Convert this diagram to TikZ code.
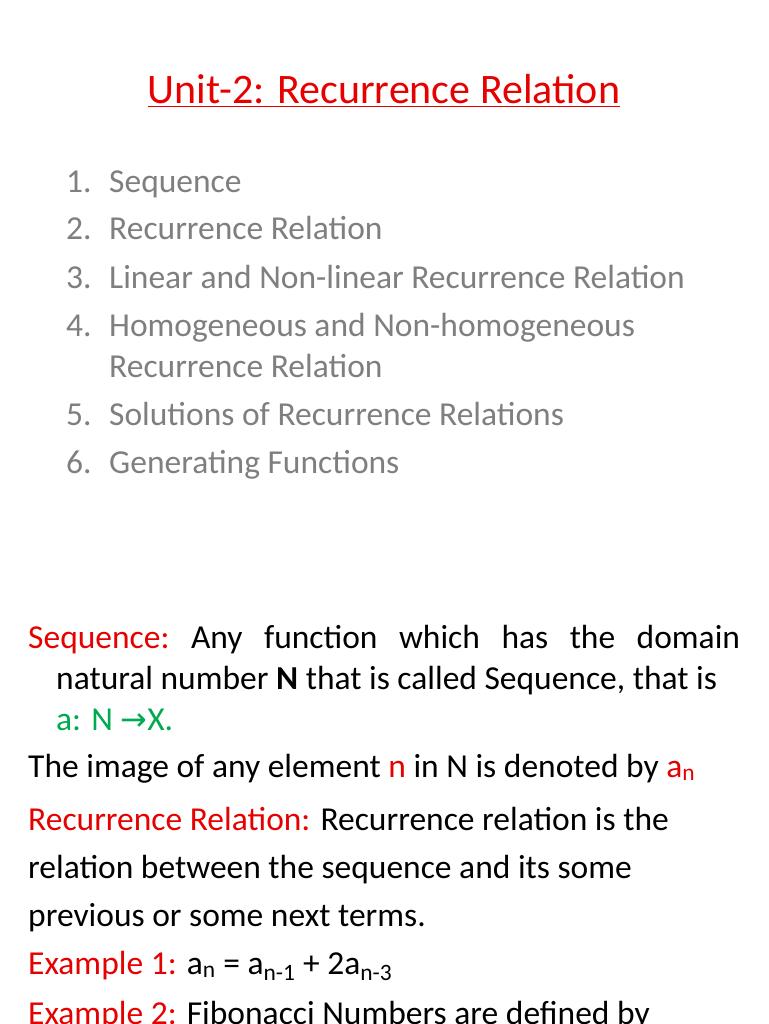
\documentclass[tikz,border=0pt]{standalone}
\usepackage{fontspec}
\setmainfont{Carlito}
\newfontfamily\arrowfont{DejaVu Sans}
\definecolor{tred}{RGB}{230,0,0}
\definecolor{tgray}{RGB}{127,127,127}
\definecolor{tgreen}{RGB}{0,170,80}
\begin{document}
\begin{tikzpicture}[x=1pt,y=-1pt,
  item/.style={anchor=base west,inner sep=0pt,text=tgray,font=\fontsize{33.5}{36}\selectfont},
  body/.style={anchor=base west,inner sep=0pt,font=\fontsize{33.5}{36}\selectfont}]
\useasboundingbox (0,0) rectangle (768,1024);
\clip (0,0) rectangle (768,1024);
\fill[white] (0,0) rectangle (768,1024);
\node[anchor=base,inner sep=0pt,text=tred,font=\fontsize{42}{44}\selectfont] (title) at (384,104) {\underline{Unit-2: Recurrence Relation}};
\foreach \n/\y/\t in {1/193/Sequence,2/240/Recurrence Relation,3/288/Linear and Non-linear Recurrence Relation,4/336/Homogeneous and Non-homogeneous,5/425/Solutions of Recurrence Relations,6/473/Generating Functions}{
  \node[item] (n\n) at (66,\y) {\n.};
  \node[item] (t\n) at (109,\y) {\t};
}
\node[item] (t4b) at (109,377) {Recurrence Relation};
\node[body] (l1) at (28,648) {\makebox[712pt][s]{\textcolor{tred}{Sequence:}\ Any\ function\ which\ has\ the\ domain}};
\node[body] (l2) at (56,689) {natural number \textbf{N} that is called Sequence, that is};
\node[body,text=tgreen] (l3) at (56,730) {a: N {\arrowfont\fontsize{32}{34}\selectfont→}X.};
\node[body] (l4) at (28,777) {The image of any element \textcolor{tred}{n} in N is denoted by \textcolor{tred}{a\textsubscript{n}}};
\node[body] (l5) at (28,830) {\textcolor{tred}{Recurrence Relation:} Recurrence relation is the};
\node[body] (l6) at (28,878) {relation between the sequence and its some};
\node[body] (l7) at (28,926) {previous or some next terms.};
\node[body] (l8) at (28,974) {\textcolor{tred}{Example 1:} a\textsubscript{n} = a\textsubscript{n-1} + 2a\textsubscript{n-3}};
\node[body] (l9) at (28,1024) {\textcolor{tred}{Example 2:} Fibonacci Numbers are defined by};
\end{tikzpicture}
\end{document}
